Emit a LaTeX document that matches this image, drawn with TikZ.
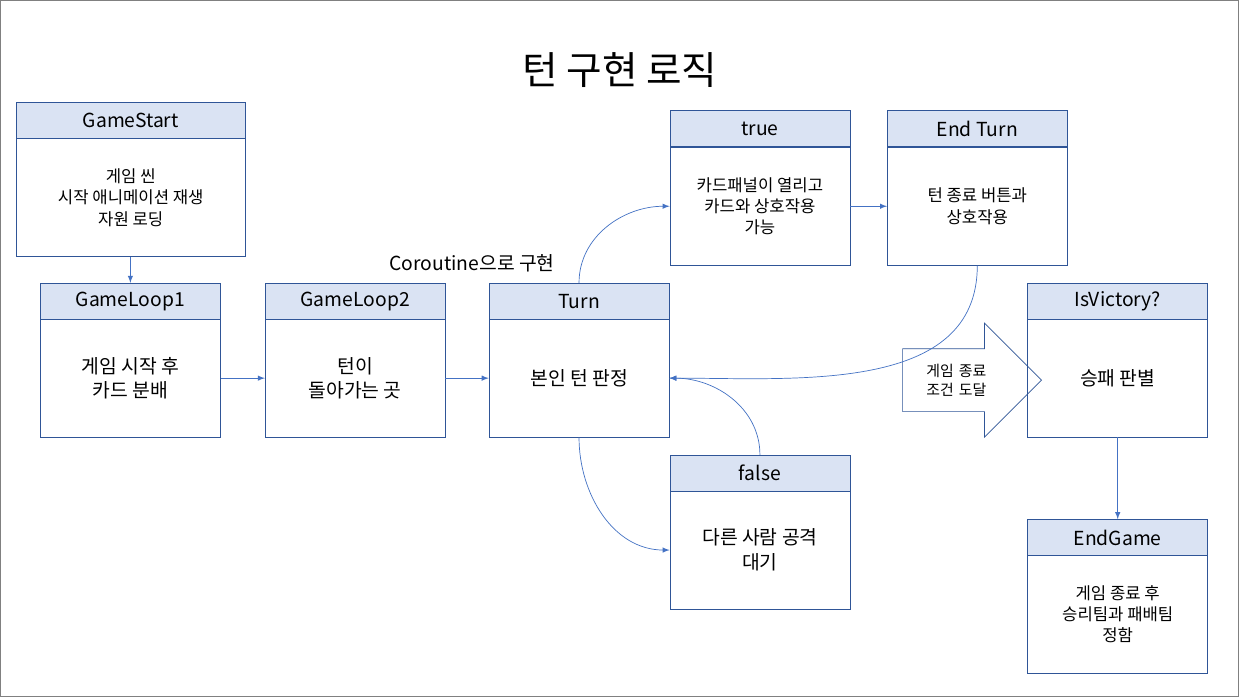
\documentclass[tikz,border=0pt]{standalone}
\usepackage{fontspec}
\setmainfont{Noto Sans CJK KR}
\usetikzlibrary{shapes.arrows}
\definecolor{hdrfill}{HTML}{DAE3F3}
\definecolor{boxline}{HTML}{2F5597}
\definecolor{linkline}{HTML}{4472C4}
\tikzset{
  hdr/.style={draw=boxline,fill=hdrfill,minimum width=3.6cm,minimum height=0.72cm,
    inner sep=0pt,font=\fontsize{11}{13}\selectfont},
  body/.style={draw=boxline,minimum width=3.6cm,minimum height=2.36cm,inner sep=0pt,
    align=center,font=\fontsize{9.5}{12}\selectfont},
  link/.style={draw=linkline,-latex}
}
\begin{document}
\begin{tikzpicture}[x=0.02cm,y=-0.02cm]
  \draw[gray,fill=white] (0,0) rectangle (1239,696);
  \node[font=\fontsize{22}{26}\selectfont] (title) at (620,70) {턴 구현 로직};

  % left column
  \node[hdr,minimum width=4.58cm] (startH) at (130.5,120) {GameStart};
  \node[body,minimum width=4.58cm] (start) at (130.5,197.5) {게임 씬\\시작 애니메이션 재생\\자원 로딩};

  \node[hdr] (loop1H) at (130,301) {GameLoop1};
  \node[body,font=\fontsize{11}{14}\selectfont] (loop1) at (130,378) {게임 시작 후\\카드 분배};
  \node[hdr] (loop2H) at (355,301) {GameLoop2};
  \node[body,font=\fontsize{11}{14}\selectfont] (loop2) at (355,378) {턴이\\돌아가는 곳};
  \node[hdr] (turnH) at (579,301) {Turn};
  \node[body,font=\fontsize{11}{14}\selectfont] (turn) at (579,378) {본인 턴 판정};
  \node (coro) at (472,263) {\fontsize{11}{13}\selectfont Coroutine으로 구현};

  % branches
  \node[hdr] (trueH) at (760,128.5) {true};
  \node[body] (true) at (760,206) {카드패널이 열리고\\카드와 상호작용\\가능};
  \node[hdr] (endH) at (977.5,128.5) {End Turn};
  \node[body] (end) at (977.5,206) {턴 종료 버튼과\\상호작용};
  \node[hdr] (falseH) at (760,473) {false};
  \node[body,font=\fontsize{11}{14}\selectfont] (false) at (760,550) {다른 사람 공격\\대기};

  % result
  \node[single arrow,draw=boxline,minimum height=2.78cm,minimum width=2.28cm,
    single arrow head extend=0.27cm,inner sep=0pt,align=center,
    font=\fontsize{8.5}{11}\selectfont,text width=1.5cm,shape border uses incircle=false]
    (reach) at (956.5,380) {게임 종료\\조건 도달\hspace{0.7cm}};
  \node[hdr] (vicH) at (1118,301) {IsVictory?};
  \node[body,font=\fontsize{11}{14}\selectfont] (vic) at (1118,378) {승패 판별};
  \node[hdr] (gameH) at (1118,537.5) {EndGame};
  \node[body] (game) at (1118,614.5) {게임 종료 후\\승리팀과 패배팀\\정함};

  % connectors
  \draw[link] (start) -- (loop1H);
  \draw[link] (loop1) -- (loop2);
  \draw[link] (loop2) -- (turn);
  \draw[link] (turnH.north) to[out=90,in=180] (true.west);
  \draw[link] (true) -- (end);
  \draw[link] (end.south) to[out=-90,in=0] (turn.east);
  \draw[link] (falseH.north) to[out=90,in=0] (turn.east);
  \draw[link] (turn.south) to[out=-90,in=180] (false.west);
  \draw[link] (vic) -- (gameH);
\end{tikzpicture}
\end{document}
